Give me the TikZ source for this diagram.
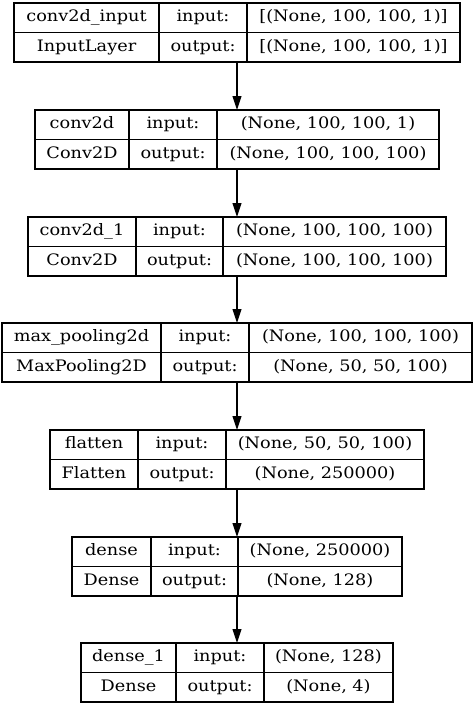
\documentclass[tikz,border=0pt]{standalone}
\usepackage{fontspec}
\setmainfont{DejaVu Serif}[FakeStretch=1.12]
\usetikzlibrary{arrows.meta,positioning,fit}

\begin{document}
\begin{tikzpicture}[
  x=1pt, y=1pt,
  cell/.style={rectangle, draw, line width=1.1pt, outer sep=0pt, inner sep=0pt,
               minimum height=29.5pt, text height=11pt, text depth=3pt,
               font=\fontsize{15.8}{18}\selectfont, anchor=north west},
  grp/.style={inner sep=0pt, outer sep=0pt},
  arr/.style={draw, line width=1.1pt, -{Triangle[length=14pt,width=9pt]}},
  node distance=0pt
]
\useasboundingbox (0,0) rectangle (474,-705);
% conv2d_input
\node[cell, minimum width=145pt] (inpName) at (14,-3) {conv2d\_input};
\node[cell, minimum width=88pt, right=of inpName] (inpIn) {input:};
\node[cell, minimum width=213pt, right=of inpIn] (inpInShape) {[(None, 100, 100, 1)]};
\node[cell, minimum width=145pt, below=of inpName] (inpType) {InputLayer};
\node[cell, minimum width=88pt, below=of inpIn] (inpOut) {output:};
\node[cell, minimum width=213pt, below=of inpInShape] (inpOutShape) {[(None, 100, 100, 1)]};
\node[grp, fit=(inpName)(inpOutShape)] (inp) {};
% conv2d
\node[cell, minimum width=94pt] (convName) at (35,-110) {conv2d};
\node[cell, minimum width=88pt, right=of convName] (convIn) {input:};
\node[cell, minimum width=222pt, right=of convIn] (convInShape) {(None, 100, 100, 1)};
\node[cell, minimum width=94pt, below=of convName] (convType) {Conv2D};
\node[cell, minimum width=88pt, below=of convIn] (convOut) {output:};
\node[cell, minimum width=222pt, below=of convInShape] (convOutShape) {(None, 100, 100, 100)};
\node[grp, fit=(convName)(convOutShape)] (conv) {};
% conv2d_1
\node[cell, minimum width=108pt] (convbName) at (28,-217) {conv2d\_1};
\node[cell, minimum width=87pt, right=of convbName] (convbIn) {input:};
\node[cell, minimum width=223pt, right=of convbIn] (convbInShape) {(None, 100, 100, 100)};
\node[cell, minimum width=108pt, below=of convbName] (convbType) {Conv2D};
\node[cell, minimum width=87pt, below=of convbIn] (convbOut) {output:};
\node[cell, minimum width=223pt, below=of convbInShape] (convbOutShape) {(None, 100, 100, 100)};
\node[grp, fit=(convbName)(convbOutShape)] (convb) {};
% max_pooling2d
\node[cell, minimum width=159pt] (poolName) at (2,-323) {max\_pooling2d};
\node[cell, minimum width=88pt, right=of poolName] (poolIn) {input:};
\node[cell, minimum width=223pt, right=of poolIn] (poolInShape) {(None, 100, 100, 100)};
\node[cell, minimum width=159pt, below=of poolName] (poolType) {MaxPooling2D};
\node[cell, minimum width=88pt, below=of poolIn] (poolOut) {output:};
\node[cell, minimum width=223pt, below=of poolInShape] (poolOutShape) {(None, 50, 50, 100)};
\node[grp, fit=(poolName)(poolOutShape)] (pool) {};
% flatten
\node[cell, minimum width=88pt] (flatName) at (50,-430) {flatten};
\node[cell, minimum width=88pt, right=of flatName] (flatIn) {input:};
\node[cell, minimum width=198pt, right=of flatIn] (flatInShape) {(None, 50, 50, 100)};
\node[cell, minimum width=88pt, below=of flatName] (flatType) {Flatten};
\node[cell, minimum width=88pt, below=of flatIn] (flatOut) {output:};
\node[cell, minimum width=198pt, below=of flatInShape] (flatOutShape) {(None, 250000)};
\node[grp, fit=(flatName)(flatOutShape)] (flat) {};
% dense
\node[cell, minimum width=79pt] (denseName) at (72,-537) {dense};
\node[cell, minimum width=87pt, right=of denseName] (denseIn) {input:};
\node[cell, minimum width=164pt, right=of denseIn] (denseInShape) {(None, 250000)};
\node[cell, minimum width=79pt, below=of denseName] (denseType) {Dense};
\node[cell, minimum width=87pt, below=of denseIn] (denseOut) {output:};
\node[cell, minimum width=164pt, below=of denseInShape] (denseOutShape) {(None, 128)};
\node[grp, fit=(denseName)(denseOutShape)] (dense) {};
% dense_1
\node[cell, minimum width=95pt] (densebName) at (81,-643) {dense\_1};
\node[cell, minimum width=88pt, right=of densebName] (densebIn) {input:};
\node[cell, minimum width=129pt, right=of densebIn] (densebInShape) {(None, 128)};
\node[cell, minimum width=95pt, below=of densebName] (densebType) {Dense};
\node[cell, minimum width=88pt, below=of densebIn] (densebOut) {output:};
\node[cell, minimum width=129pt, below=of densebInShape] (densebOutShape) {(None, 4)};
\node[grp, fit=(densebName)(densebOutShape)] (denseb) {};
% edges
\draw[arr] (inp.south) -- (conv.north);
\draw[arr] (conv.south) -- (convb.north);
\draw[arr] (convb.south) -- (pool.north);
\draw[arr] (pool.south) -- (flat.north);
\draw[arr] (flat.south) -- (dense.north);
\draw[arr] (dense.south) -- (denseb.north);
\end{tikzpicture}
\end{document}
